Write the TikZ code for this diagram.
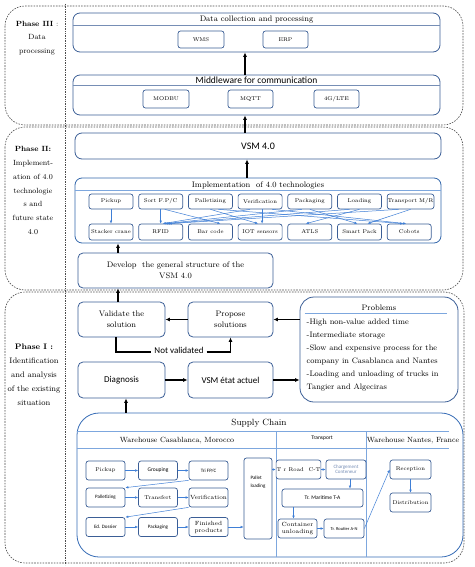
\documentclass[tikz,border=0pt]{standalone}
\usepackage{fontspec}
\usepackage{xcolor}
\newfontfamily\calfont{Carlito}
\usetikzlibrary{arrows.meta,positioning}
\definecolor{vsmblue}{HTML}{3B5E96}
\definecolor{vsmsky}{HTML}{3F7FD6}
\definecolor{vsmline}{HTML}{7DA7DE}
\tikzset{
  phase/.style={draw=black!70, dash pattern=on 1.6pt off 1.2pt, rounded corners=20pt, line width=0.6pt},
  divider/.style={draw=black!70, dash pattern=on 0.8pt off 0.9pt, line width=0.7pt},
  phasetext/.style={align=center, inner sep=0pt, font=\fontsize{7.5}{13.8}\selectfont},
  panel/.style={draw=vsmblue, rounded corners=7pt, line width=0.8pt, fill=white},
  panelsep/.style={draw=vsmblue!70, line width=0.6pt},
  sepline/.style={draw=vsmline, line width=0.6pt},
  box/.style={draw=vsmblue, rounded corners=5pt, line width=0.8pt, fill=white, align=center, font=\fontsize{8}{11}\selectfont, inner sep=1pt},
  smallbox/.style={draw=vsmblue, rounded corners=2.5pt, line width=0.7pt, fill=white, align=center, font=\fontsize{5.5}{6.5}\selectfont, inner sep=0.5pt},
  techbox/.style={smallbox, minimum width=44pt, minimum height=15pt},
  chainbox/.style={smallbox, minimum width=39pt, minimum height=19pt},
  line/.style={-{Latex[length=4.5pt,width=4pt]}, line width=1.1pt, draw=black},
  bluearrow/.style={-{Latex[length=3pt,width=2.5pt]}, line width=0.5pt, draw=vsmsky}
}
\begin{document}
\begin{tikzpicture}[x=1pt, y=-1pt]
  \useasboundingbox (0,0) rectangle (474,567);

  % phases
  \draw[phase] (5,6) rectangle (463,125);
  \draw[phase] (5,127) rectangle (463,290);
  \draw[phase] (5,292) rectangle (464,563);
  \draw[divider] (65,4) -- (65,565);

  \node[phasetext] (p3text) at (37,38) {\textbf{Phase III} :\\Data\\processing};
  \node[phasetext] (p2text) at (33,190.5) {\textbf{Phase II:}\\Implement-\\ation of 4.0\\technologie\\s and\\future state\\4.0};
  \node[phasetext, font=\fontsize{8}{14}\selectfont] (p1text) at (34,375) {\textbf{Phase I :}\\Identification\\and analysis\\of the existing\\situation};

  % phase III
  \node[panel, minimum width=367pt, minimum height=39pt] (datacoll) at (256.5,32.5) {};
  \node[font=\fontsize{8}{9}\selectfont] (datatitle) at (256.5,19.5) {Data collection and processing};
  \draw[panelsep] ([yshift=-13pt]datacoll.north west) -- ([yshift=-13pt]datacoll.north east);
  \node[smallbox, minimum width=46pt, minimum height=17pt] (wms) at (201,39.5) {WMS};
  \node[smallbox, minimum width=45pt, minimum height=17pt] (erp) at (285.5,39.5) {ERP};

  \node[panel, minimum width=367pt, minimum height=40pt] (middleware) at (256.5,95) {};
  \node[font=\calfont\fontsize{9.5}{10}\selectfont] (midtitle) at (256.5,80.5) {Middleware for communication};
  \draw[panelsep] ([yshift=-11pt]middleware.north west) -- ([yshift=-11pt]middleware.north east);
  \node[smallbox, minimum width=46pt, minimum height=18pt] (modbu) at (166,99) {MODBU};
  \node[smallbox, minimum width=45pt, minimum height=18pt] (mqtt) at (250.5,99) {MQTT};
  \node[smallbox, minimum width=45pt, minimum height=18pt] (lte) at (336.5,99) {4G/LTE};

  \draw[line] ([xshift=-11.5pt]middleware.north) -- ([xshift=-11.5pt]middleware.north |- datacoll.south);

  % phase II
  \node[panel, minimum width=366pt, minimum height=26pt, font=\calfont\fontsize{10}{11}\selectfont] (vsm4) at (258,146) {VSM 4.0};
  \draw[line] ([xshift=-13pt]vsm4.north) -- ([xshift=-13pt]vsm4.north |- middleware.south);

  \node[panel, draw=vsmsky!80!black, minimum width=366pt, minimum height=65pt] (impl) at (258,210.5) {};
  \node[font=\fontsize{8}{9}\selectfont] (impltitle) at (258,185.5) {Implementation\ \ of 4.0 technologies};
  \draw[sepline] ([yshift=-13pt]impl.north west) -- ([yshift=-13pt]impl.north east);
  \draw[line] ([xshift=-11pt]impl.north) -- ([xshift=-11pt]impl.north |- vsm4.south);

  \node[techbox] (tpick) at (111,201.5) {Pickup};
  \node[techbox, right=5pt of tpick] (tsort) {Sort F.P/C};
  \node[techbox, right=5pt of tsort] (tpal) {Palletizing};
  \node[techbox, right=5pt of tpal] (tverif) {Verification};
  \node[techbox, right=5pt of tverif] (tpack) {Packaging};
  \node[techbox, right=5pt of tpack] (tload) {Loading};
  \node[techbox, right=5pt of tload] (ttrans) {Transport M/R};

  \node[techbox, minimum height=16pt] (tstack) at (111,232) {Stacker crane};
  \node[techbox, minimum height=16pt, right=5pt of tstack] (trfid) {RFID};
  \node[techbox, minimum height=16pt, right=5pt of trfid] (tbar) {Bar code};
  \node[techbox, minimum height=16pt, right=5pt of tbar] (tiot) {IOT sensors};
  \node[techbox, minimum height=16pt, right=5pt of tiot] (tatls) {ATLS};
  \node[techbox, minimum height=16pt, right=5pt of tatls] (tsmart) {Smart Pack};
  \node[techbox, minimum height=16pt, right=5pt of tsmart] (tcobot) {Cobots};

  \draw[bluearrow] (tpick) -- (tstack);
  \draw[bluearrow] (tsort.south) -- (trfid.north);
  \draw[bluearrow] ([xshift=4pt]tsort.south) -- ([xshift=10pt]tbar.north);
  \draw[bluearrow] (tpal.south) -- ([xshift=-2pt]tiot.north);
  \draw[bluearrow] ([xshift=8pt]tpal.south) -- ([xshift=-6pt]tcobot.north);
  \draw[bluearrow] ([xshift=-10pt]tverif.south) -- ([xshift=2pt]trfid.north);
  \draw[bluearrow] ([xshift=2pt]tverif.south) -- ([xshift=2pt]tiot.north);
  \draw[bluearrow] ([xshift=12pt]tverif.south) -- ([xshift=-3pt]tcobot.north);
  \draw[bluearrow] ([xshift=-8pt]tpack.south) -- ([xshift=4pt]trfid.north);
  \draw[bluearrow] (tpack.south) -- ([xshift=-2pt]tsmart.north);
  \draw[bluearrow] (tload.south) -- ([xshift=-4pt]tatls.north);
  \draw[bluearrow] ([xshift=-10pt]tload.south) -- ([xshift=6pt]trfid.north);
  \draw[bluearrow] (ttrans.south) -- ([xshift=8pt]tsmart.north);
  \draw[bluearrow] ([xshift=-12pt]ttrans.south) -- ([xshift=8pt]trfid.north);

  \node[box, minimum width=195pt, minimum height=35pt] (develop) at (175.5,270.5) {Develop\ \ the general structure of the\\VSM 4.0};
  \draw[line] ([xshift=-57.5pt]develop.north) -- ([xshift=-57.5pt]develop.north |- impl.south);

  % phase I
  \node[box, minimum width=87pt, minimum height=35pt] (validate) at (121.5,319.5) {Validate the\\solution};
  \node[box, minimum width=85pt, minimum height=35pt] (propose) at (230.5,319.5) {Propose\\solutions};
  \draw[line] ([xshift=-3.5pt]validate.north) -- ([xshift=-3.5pt]validate.north |- develop.south);

  \node[panel, rounded corners=14pt, minimum width=158pt, minimum height=105pt] (problems) at (379,349.5) {};
  \node[font=\fontsize{8}{9}\selectfont] (probtitle) at (379,308) {Problems};
  \draw[sepline] ([xshift=5pt,yshift=-17pt]problems.north west) -- ([xshift=-11pt,yshift=-17pt]problems.north east);
  \node[anchor=north west, align=left, inner sep=0pt, font=\fontsize{7.9}{13}\selectfont] (problist) at (306.5,319) {-High non-value added time\\-Intermediate storage\\-Slow and expensive process for the\\company in Casablanca and Nantes\\-Loading and unloading of trucks in\\Tangier and Algeciras};

  \draw[line] (problems.west |- propose) -- (propose.east);
  \draw[line] (propose.west) -- (validate.east);
  \node[font=\calfont\fontsize{9}{10}\selectfont, inner xsep=3pt, inner ysep=0pt] (notval) at (179,350) {Not validated};
  \draw[line width=1.1pt] ([xshift=-5.5pt]validate.south) |- ([yshift=-2pt]notval.west);
  \draw[line] ([yshift=-2pt]notval.east) -| (propose.south);

  \node[box, minimum width=87pt, minimum height=36pt, font=\calfont\fontsize{9}{10}\selectfont] (diagnosis) at (121.5,380) {Diagnosis};
  \node[box, minimum width=85pt, minimum height=36pt, font=\calfont\fontsize{9}{10}\selectfont] (vsmactuel) at (230.5,380) {VSM état actuel};
  \draw[line] (diagnosis) -- (vsmactuel);
  \draw[line] (vsmactuel.east) -- (vsmactuel.east -| problems.west);

  % supply chain
  \node[panel, draw=vsmsky!85!black, rounded corners=22pt, minimum width=386pt, minimum height=144pt] (supply) at (270,485) {};
  \draw[line] ([xshift=-144pt]supply.north) -- ([xshift=-144pt]supply.north |- diagnosis.south);
  \node[font=\fontsize{9}{10}\selectfont] (supplytitle) at (259,423) {Supply Chain};
  \draw[sepline] ([yshift=-19pt]supply.north west) -- ([xshift=-14pt,yshift=-19pt]supply.north east);
  \draw[sepline] ([yshift=-36pt]supply.north west) -- ([xshift=-14pt,yshift=-36pt]supply.north east);
  \draw[sepline] ([xshift=200pt,yshift=-19pt]supply.north west) -- ([xshift=200pt]supply.south west);
  \draw[sepline] ([xshift=290pt,yshift=-19pt]supply.north west) -- ([xshift=290pt]supply.south west);
  \node[font=\fontsize{7.5}{8}\selectfont] (casahead) at (177,441) {Warehouse Casablanca, Morocco};
  \node[font=\calfont\fontsize{5.5}{6}\selectfont] (transhead) at (322,438) {Transport};
  \node[font=\fontsize{7.5}{8}\selectfont] (nanteshead) at (413,441) {Warehouse Nantes, France};

  \node[chainbox] (cpick) at (105.5,470.5) {Pickup};
  \node[chainbox, font=\calfont\fontsize{5.5}{6}\selectfont] (cgroup) at (158,470.5) {Grouping};
  \node[chainbox, font=\calfont\fontsize{5}{6}\selectfont] (ctri) at (208.5,470.5) {Tri FP/C};
  \node[chainbox, font=\calfont\fontsize{5}{6}\selectfont] (cpal) at (105.5,497.5) {Palletizing};
  \node[chainbox] (ctransf) at (158,497.5) {Transfert};
  \node[chainbox, font=\fontsize{6}{7}\selectfont] (cverif) at (208.5,497.5) {Verification};
  \node[chainbox, font=\calfont\fontsize{5}{6}\selectfont] (cdossier) at (105.5,527) {Ed. Dossier};
  \node[chainbox, font=\calfont\fontsize{5}{6}\selectfont] (cpack) at (158,527) {Packaging};
  \node[chainbox, font=\fontsize{6}{7}\selectfont] (cfinish) at (208.5,527) {Finished\\products};
  \node[chainbox, minimum width=28pt, minimum height=81pt] (ploading) at (258,498.5) {};
  \node[font=\calfont\fontsize{5}{8}\selectfont, align=left] (ploadtext) at (258,482) {Pallet\\loading};

  \draw[bluearrow] (cpick) -- (cgroup);
  \draw[bluearrow] (cgroup) -- (ctri);
  \draw[bluearrow] (ctri.south west) -- (cpal.north east);
  \draw[bluearrow] (cpal) -- (ctransf);
  \draw[bluearrow] (ctransf) -- (cverif);
  \draw[bluearrow] (cverif.south west) -- (cdossier.north east);
  \draw[bluearrow] (cdossier) -- (cpack);
  \draw[bluearrow] (cpack) -- (cfinish);
  \draw[bluearrow] (cfinish.east) -- (cfinish.east -| ploading.west);

  \node[chainbox, minimum width=41pt, font=\fontsize{5.5}{6}\selectfont] (troad) at (298.5,469.5) {T r Road\ \ C-T};
  \node[chainbox, minimum width=40pt, font=\calfont\fontsize{5}{5.5}\selectfont, text=vsmblue!70] (charg) at (346,469.5) {Chargement\\Conteneur};
  \node[chainbox, minimum width=81pt, minimum height=18pt, font=\calfont\fontsize{5.5}{6}\selectfont] (tmarit) at (322.5,498) {Tr. Maritime T-A};
  \node[chainbox, font=\fontsize{6}{7}\selectfont] (cunload) at (297.5,528.5) {Container\\unloading};
  \node[chainbox, minimum width=40pt, font=\calfont\fontsize{4.5}{5}\selectfont] (troutier) at (344,528.5) {Tr. Routier A-N};

  \draw[bluearrow] (troad.west -| ploading.east) -- (troad.west);
  \draw[bluearrow] (troad) -- (charg);
  \draw[bluearrow] ([xshift=4pt]charg.south) -- ([xshift=4pt]charg.south |- tmarit.north);
  \draw[bluearrow] ([xshift=-4pt]cunload.north |- tmarit.south) -- ([xshift=-4pt]cunload.north);
  \draw[bluearrow] (cunload) -- (troutier);

  \node[chainbox, minimum width=41pt, font=\fontsize{5.5}{6}\selectfont] (recep) at (410.5,469.5) {Reception};
  \node[chainbox, minimum width=41pt, font=\fontsize{5.5}{6}\selectfont] (distrib) at (410.5,502.5) {Distribution};
  \draw[bluearrow] (troutier.east) -- (recep.west);
  \draw[bluearrow] (recep) -- (distrib);
\end{tikzpicture}
\end{document}
